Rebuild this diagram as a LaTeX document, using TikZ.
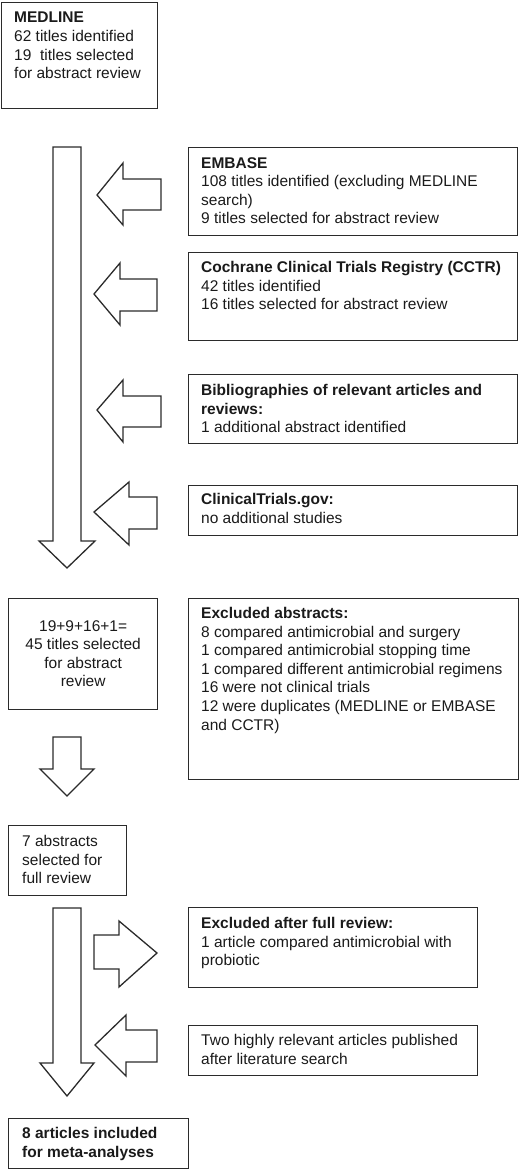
\documentclass[tikz,border=0pt]{standalone}
\usepackage{fontspec}
\setmainfont{Liberation Sans}
\definecolor{linecol}{HTML}{2B2B2B}
\definecolor{txtcol}{HTML}{1A1A1A}
\tikzset{
  boxst/.style={draw=linecol, line width=1.3pt, inner sep=0pt, anchor=north west},
  txt/.style={inner sep=0pt, anchor=north west, align=left, text=txtcol,
    font=\fontsize{15.5}{18.6}\selectfont, execute at begin node={\rule{0pt}{12pt}}},
  blockarrow/.style={draw=linecol, line width=1.3pt, fill=white, line join=miter},
}
\begin{document}
\begin{tikzpicture}[x=1pt, y=-1pt]
\useasboundingbox (0,0) rectangle (520,1170);

% boxes
\node[boxst, minimum width=156, minimum height=106] (medline) at (1,2) {};
\node[boxst, minimum width=329, minimum height=88] (embase) at (188,147) {};
\node[boxst, minimum width=329, minimum height=88] (cctr) at (188,252) {};
\node[boxst, minimum width=329, minimum height=69] (bibl) at (188,374) {};
\node[boxst, minimum width=329, minimum height=50] (ctgov) at (188,485) {};
\node[boxst, minimum width=149, minimum height=111] (sum) at (8,598) {};
\node[boxst, minimum width=330, minimum height=181] (excl) at (188,598) {};
\node[boxst, minimum width=118, minimum height=70] (seven) at (8,825) {};
\node[boxst, minimum width=289, minimum height=80] (exclfull) at (188,907) {};
\node[boxst, minimum width=289, minimum height=50] (two) at (188,1025) {};
\node[boxst, minimum width=180, minimum height=50] (final) at (8,1118) {};

% texts (first baseline = top + offset; node top = baseline - 12)
\node[txt] (medlinet) at ([xshift=13pt,yshift=-10pt]medline.north west)
  {\textbf{MEDLINE}\\62 titles identified\\19~~titles selected\\for abstract review};
\node[txt] (embaset) at ([xshift=13pt,yshift=-10pt]embase.north west)
  {\textbf{EMBASE}\\108 titles identified (excluding MEDLINE\\search)\\9 titles selected for abstract review};
\node[txt] (cctrt) at ([xshift=13pt,yshift=-9pt]cctr.north west)
  {\textbf{Cochrane Clinical Trials Registry (CCTR)}\\42 titles identified\\16 titles selected for abstract review};
\node[txt] (biblt) at ([xshift=13pt,yshift=-10pt]bibl.north west)
  {\textbf{Bibliographies of relevant articles and}\\\textbf{reviews:}\\1 additional abstract identified};
\node[txt] (ctgovt) at ([xshift=13pt,yshift=-8pt]ctgov.north west)
  {\textbf{ClinicalTrials.gov:}\\no additional studies};
\node[txt, anchor=north, align=center] (sumt) at ([yshift=-22pt]sum.north)
  {19+9+16+1=\\45 titles selected\\for abstract\\review};
\node[txt] (exclt) at ([xshift=13pt,yshift=-9pt]excl.north west)
  {\textbf{Excluded abstracts:}\\8 compared antimicrobial and surgery\\1 compared antimicrobial stopping time\\1 compared different antimicrobial regimens\\16 were not clinical trials\\12 were duplicates (MEDLINE or EMBASE\\and CCTR)};
\node[txt] (sevent) at ([xshift=14pt,yshift=-10pt]seven.north west)
  {7 abstracts\\selected for\\full review};
\node[txt] (exclfullt) at ([xshift=13pt,yshift=-10pt]exclfull.north west)
  {\textbf{Excluded after full review:}\\1 article compared antimicrobial with\\probiotic};
\node[txt] (twot) at ([xshift=13pt,yshift=-9pt]two.north west)
  {Two highly relevant articles published\\after literature search};
\node[txt] (finalt) at ([xshift=14pt,yshift=-9pt]final.north west)
  {\textbf{8 articles included}\\\textbf{for meta-analyses}};

% down block arrows
\draw[blockarrow] (53,147) -- (81,147) -- (81,541) -- (95,541) -- (67,568) -- (39,541) -- (53,541) -- cycle;
\draw[blockarrow] (53,737) -- (81,737) -- (81,769) -- (94,769) -- (67,796) -- (40,769) -- (53,769) -- cycle;
\draw[blockarrow] (53,908) -- (81,908) -- (81,1063) -- (94,1063) -- (67,1096) -- (40,1063) -- (53,1063) -- cycle;

% left block arrows
\draw[blockarrow] (97,195) -- (123,163) -- (123,179) -- (161,179) -- (161,210) -- (123,210) -- (123,225) -- cycle;
\draw[blockarrow] (94,294) -- (120,263) -- (120,279) -- (157,279) -- (157,311) -- (120,311) -- (120,325) -- cycle;
\draw[blockarrow] (97,410) -- (123,380) -- (123,396) -- (161,396) -- (161,427) -- (123,427) -- (123,442) -- cycle;
\draw[blockarrow] (94,512) -- (129,482) -- (129,497) -- (157,497) -- (157,529) -- (129,529) -- (129,545) -- cycle;
\draw[blockarrow] (95,1045) -- (126,1015) -- (126,1030) -- (157,1030) -- (157,1062) -- (126,1062) -- (126,1076) -- cycle;

% right block arrow
\draw[blockarrow] (157,953) -- (119,921) -- (119,935) -- (94,935) -- (94,969) -- (119,969) -- (119,987) -- cycle;
\end{tikzpicture}
\end{document}
